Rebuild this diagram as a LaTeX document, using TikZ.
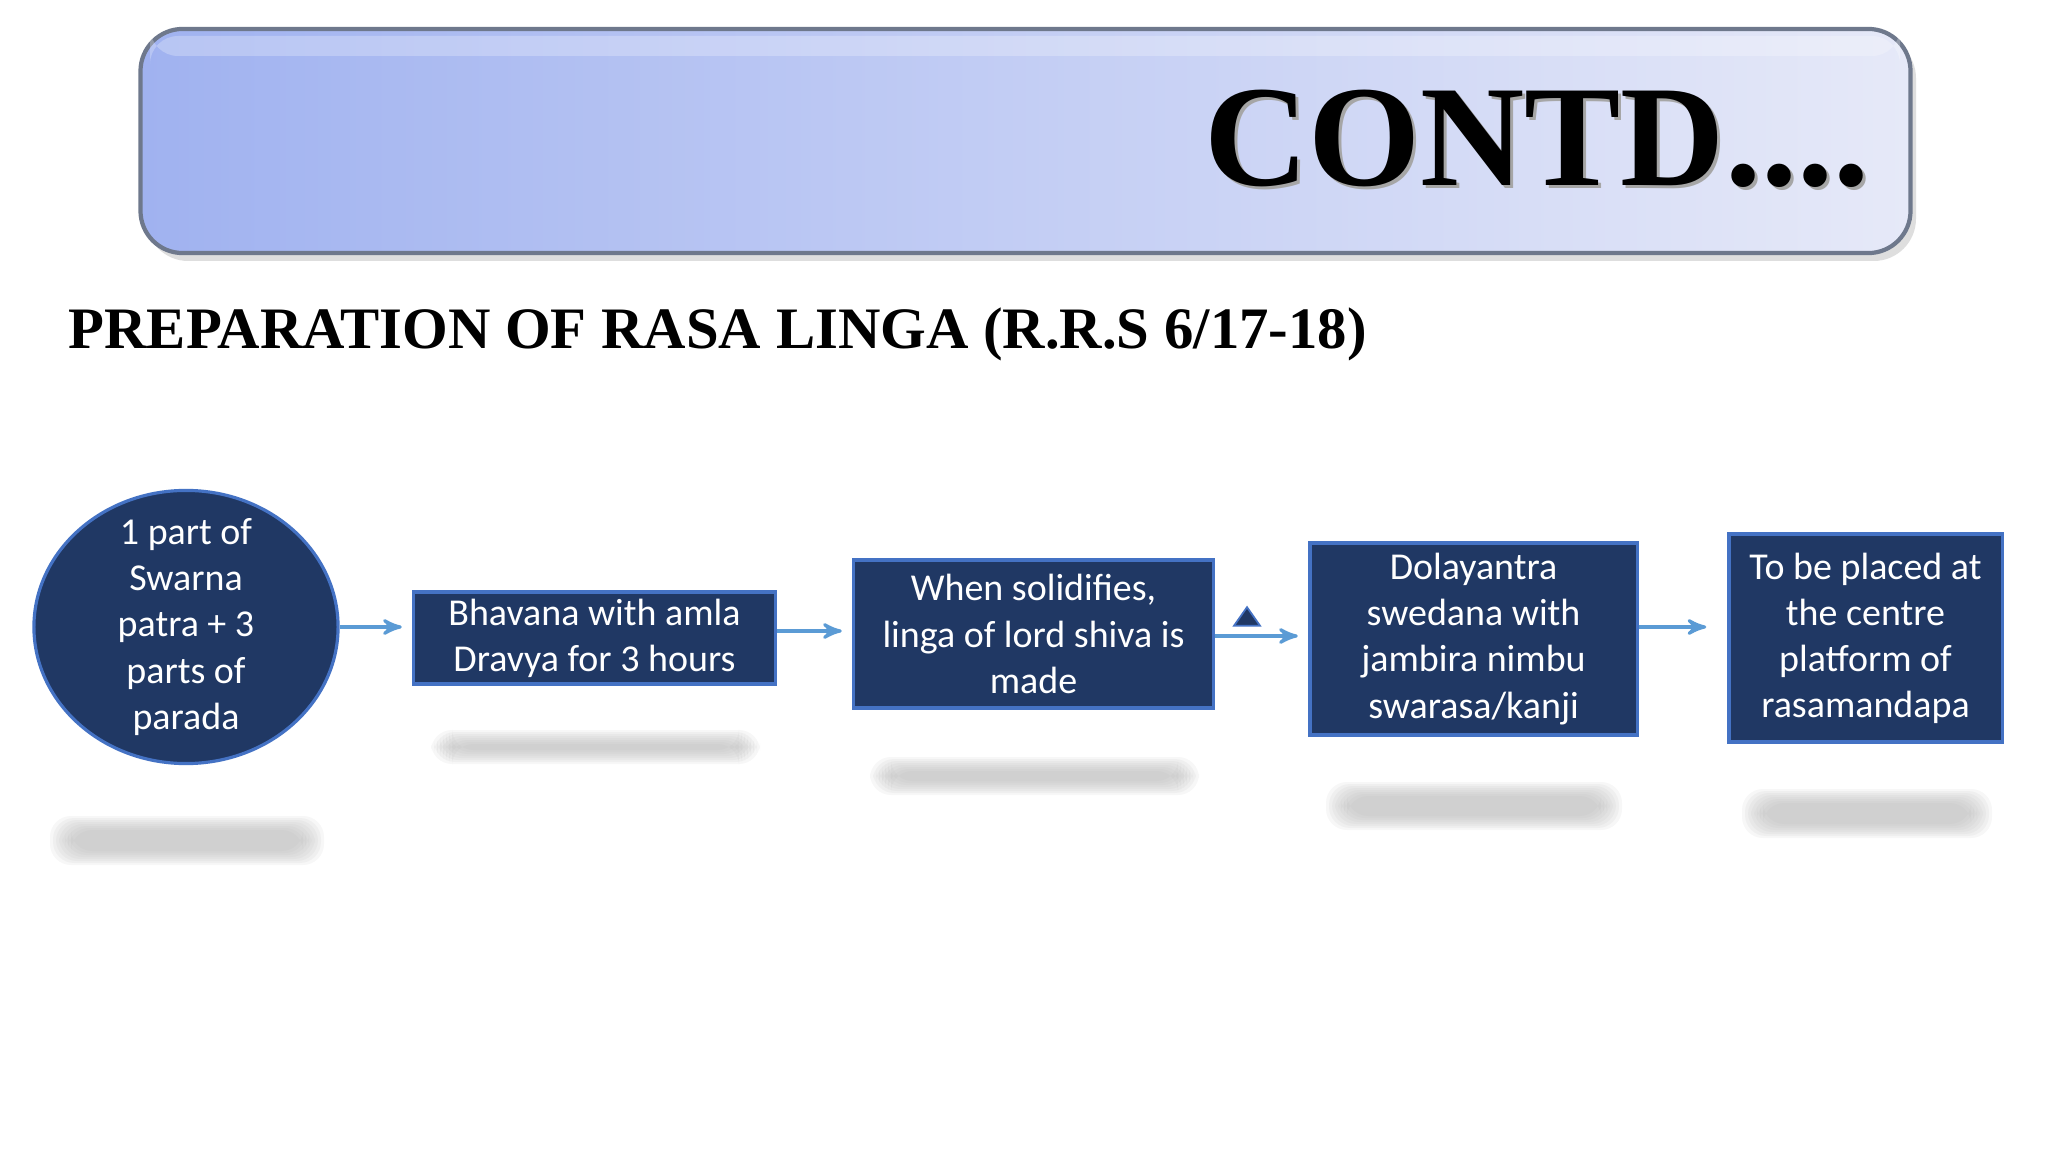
\documentclass[tikz,border=0pt]{standalone}
\usepackage{fontspec}
\setmainfont{Liberation Serif}
\newfontfamily\calibri{Carlito}
\usepackage{tikz}
\usetikzlibrary{positioning,calc,arrows,shapes.geometric}
\definecolor{navybox}{RGB}{32,56,100}
\definecolor{boxedge}{RGB}{68,114,196}
\definecolor{arrowblue}{RGB}{91,155,213}
\definecolor{bannerleft}{RGB}{160,178,240}
\definecolor{bannerright}{RGB}{230,233,248}
\definecolor{banneredge}{RGB}{110,120,140}

% soft grey reflection under a step
\newcommand{\softbar}[4]{%
  \foreach \k in {0,...,7}
    \fill[black!30, opacity=0.1, rounded corners=6pt]
      ({#1+\k*3},{#2+\k*2}) rectangle ({#3-\k*3},{#4-\k*2});
}

\begin{document}
\begin{tikzpicture}[x=0.01cm,y=-0.01cm,>=stealth',
    step box/.style={rectangle,draw=boxedge,fill=navybox,text=white,line width=0.9pt,
      inner sep=0pt,align=center,font=\calibri\fontsize{10.8}{13.1}\selectfont},
    start node/.style={ellipse,draw=boxedge,fill=navybox,line width=0.9pt,inner sep=0pt},
    start text/.style={text=white,inner sep=0pt,align=center,
      font=\calibri\fontsize{10.8}{13.1}\selectfont},
    flow/.style={->,draw=arrowblue,line width=0.9pt,shorten >=3pt}]
\useasboundingbox (0,0) rectangle (2048,1152);
\fill[white] (0,0) rectangle (2048,1152);

%Banner
    \fill[black!25, opacity=0.5, rounded corners=12pt] (146,36) rectangle (1916,261);
    \node[rectangle, rounded corners=12pt, draw=banneredge, line width=1.2pt,
          left color=bannerleft, right color=bannerright,
          minimum width=17.69cm, minimum height=2.24cm] (banner) at (1025.5,141) {};
    \fill[white, opacity=0.25, rounded corners=8pt] (150,36) rectangle (1900,56);
    \node[anchor=base east, inner sep=0pt, text=black!35, font=\bfseries\fontsize{41}{41}\selectfont]
        (contdshade) at (1873,189) {CONTD....};
    \node[anchor=base east, inner sep=0pt, font=\bfseries\fontsize{41}{41}\selectfont]
        (contd) at (1870,186) {CONTD....};

%Title
    \node[anchor=base west, inner sep=0pt, font=\bfseries\fontsize{16.7}{20}\selectfont]
        (title) at (68,349) {PREPARATION OF RASA LINGA (R.R.S 6/17-18)};

%Reflections
    \softbar{50}{816}{324}{865}
    \softbar{431}{730}{760}{764}
    \softbar{870}{757}{1199}{795}
    \softbar{1326}{782}{1622}{830}
    \softbar{1742}{789}{1992}{838}

%Nodes
    \node[start node, minimum width=3.04cm, minimum height=2.73cm] (parts) at (186,627) {};
    \node[start text] (partstext) at (parts.center)
        {1 part of\\Swarna\\patra + 3\\parts of\\parada};
    \node[step box, minimum width=3.61cm, minimum height=0.92cm] (bhavana) at (594.5,638)
        {Bhavana with amla\\Dravya for 3 hours};
    \node[step box, minimum width=3.59cm, minimum height=1.48cm] (linga) at (1033.5,634)
        {When solidifies,\\linga of lord shiva is\\made};
    \node[step box, minimum width=3.27cm, minimum height=1.92cm] (dola) at (1473.5,639)
        {Dolayantra\\swedana with\\jambira nimbu\\swarasa/kanji};
    \node[step box, minimum width=2.73cm, minimum height=2.08cm] (centre) at (1865.5,638)
        {To be placed at\\the centre\\platform of\\rasamandapa};
    \node[isosceles triangle, shape border rotate=90, isosceles triangle apex angle=70,
          fill=navybox, draw=boxedge, line width=0.5pt, inner sep=0pt,
          minimum width=0.26cm, minimum height=0.15cm] (tip) at (1247,619) {};

    \draw[flow] (parts.east) -- (parts.east -| bhavana.west);
    \draw[flow] (bhavana.east |- 0,631) -- (linga.west |- 0,631);
    \draw[flow] (linga.east |- 0,636) -- (dola.west |- 0,636);
    \draw[flow, shorten >=6pt] (dola.east |- 0,627) -- (centre.west |- 0,627);
\end{tikzpicture}
\end{document}
